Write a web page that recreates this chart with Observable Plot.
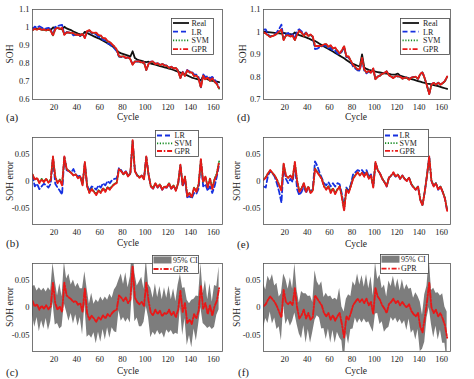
<!DOCTYPE html>
<html><head><meta charset="utf-8">
<script src="https://cdn.jsdelivr.net/npm/d3@7"></script>
<script src="https://cdn.jsdelivr.net/npm/@observablehq/plot@0.6"></script>
<style>
body{margin:0;background:#fff;}
#fig{position:relative;width:474px;height:379px;font-family:"Liberation Serif","Times New Roman",serif;color:#222;overflow:hidden;background:#fff}
.lbl{position:absolute;font-size:9.5px;white-space:nowrap;transform:translate(-50%,-50%)}
.ylab{transform:translate(-50%,-50%) rotate(-90deg)}
.pl{position:absolute;font-size:11px;white-space:nowrap;transform:translateY(-50%)}
svg{position:absolute}
</style></head><body><div id="fig"></div>
<script>
// ---------- data (one value per odd cycle 1,3,...,165) ----------
const cycles = d3.range(1, 166, 2);
const xTicks = [20, 40, 60, 80, 100, 120, 140, 160];
const yTicksSohL = [0.6, 0.7, 0.8, 0.9, 1, 1.1];
const yTicksSohR = [0.7, 0.8, 0.9, 1, 1.1];
const yTicksErr = [-0.05, 0, 0.05];

const realL = [0.997,0.995,0.993,0.992,0.99,0.988,0.987,0.986,0.985,1.0,
 0.998,0.996,0.994,0.99,1.004,0.995,0.99,0.985,0.978,0.972,
 0.966,0.962,0.958,0.976,0.97,0.963,0.957,0.951,0.945,0.94,
 0.934,0.927,0.92,0.912,0.904,0.896,0.888,0.874,0.862,0.856,
 0.852,0.848,0.844,0.838,0.868,0.83,0.822,0.818,0.814,0.81,
 0.808,0.81,0.8,0.797,0.793,0.789,0.785,0.782,0.779,0.776,
 0.772,0.768,0.764,0.759,0.754,0.749,0.744,0.739,0.734,0.728,
 0.722,0.718,0.714,0.71,0.706,0.73,0.718,0.712,0.708,0.704,
 0.702,0.699,0.696];
const errGprL = [0.012,0.002,0.006,-0.004,0.003,-0.002,0.004,-0.003,0.002,0.045,
 0.008,-0.004,0.002,-0.008,0.045,0.022,0.018,0.015,0.01,0.012,
 0.005,0.008,-0.008,0.035,-0.01,-0.022,-0.015,-0.02,-0.026,-0.018,
 -0.022,-0.014,-0.02,-0.012,-0.016,-0.01,-0.006,-0.004,0.022,0.018,
 0.012,0.018,0.008,0.014,0.075,0.018,0.01,0.006,0.01,0.003,
 0.045,0.012,-0.01,-0.014,-0.004,-0.012,-0.006,-0.016,-0.01,-0.012,
 -0.004,-0.014,-0.008,-0.018,-0.004,0.03,-0.008,0.008,-0.028,-0.022,
 -0.03,-0.012,-0.02,-0.006,0.04,-0.002,0.008,-0.012,0.004,-0.015,
 0.002,0.012,0.035];
const errLrL = [0.01,-0.01,-0.005,-0.015,-0.01,-0.005,-0.008,-0.012,-0.005,0.042,
 -0.005,-0.012,-0.018,-0.025,0.044,0.02,0.018,0.016,0.022,0.012,
 0.008,0.01,-0.006,0.032,-0.008,-0.018,-0.01,-0.012,-0.016,-0.008,
 -0.012,-0.004,-0.008,0.0,-0.004,0.002,0.004,0.005,0.024,0.02,
 0.012,0.018,0.01,0.014,0.072,0.02,0.01,0.008,0.01,0.004,
 0.044,0.012,-0.01,-0.014,-0.006,-0.012,-0.008,-0.016,-0.012,-0.012,
 -0.006,-0.014,-0.01,-0.016,-0.006,0.028,-0.01,0.004,-0.03,-0.028,
 -0.032,-0.022,-0.024,-0.014,0.038,-0.01,-0.006,-0.018,-0.01,-0.022,
 -0.01,0.008,0.03];
const errSvmL = [0.012,0.003,0.005,-0.003,0.004,-0.001,0.004,-0.002,0.003,0.044,
 0.008,-0.003,0.003,-0.006,0.044,0.022,0.019,0.015,0.011,0.012,
 0.006,0.008,-0.007,0.034,-0.009,-0.021,-0.014,-0.019,-0.024,-0.017,
 -0.02,-0.013,-0.018,-0.011,-0.014,-0.009,-0.005,-0.003,0.022,0.018,
 0.012,0.017,0.009,0.014,0.074,0.018,0.011,0.007,0.01,0.004,
 0.044,0.012,-0.009,-0.013,-0.004,-0.011,-0.006,-0.015,-0.01,-0.011,
 -0.004,-0.013,-0.008,-0.017,-0.004,0.029,-0.007,0.008,-0.027,-0.022,
 -0.029,-0.012,-0.019,-0.006,0.039,-0.002,0.008,-0.011,0.005,-0.013,
 0.004,0.014,0.036];
const ciHalfL = [0.026,0.038,0.024,0.04,0.027,0.037,0.024,0.039,0.028,0.036,
 0.04,0.025,0.041,0.027,0.038,0.03,0.043,0.026,0.04,0.025,
 0.039,0.026,0.042,0.03,0.044,0.028,0.041,0.026,0.04,0.027,
 0.041,0.026,0.039,0.025,0.04,0.027,0.038,0.042,0.028,0.043,
 0.03,0.045,0.028,0.042,0.038,0.044,0.029,0.041,0.045,0.03,
 0.043,0.03,0.045,0.031,0.047,0.03,0.044,0.03,0.046,0.029,
 0.043,0.028,0.042,0.029,0.045,0.03,0.043,0.028,0.041,0.029,
 0.043,0.027,0.041,0.026,0.04,0.027,0.041,0.026,0.039,0.025,
 0.038,0.026,0.039];

const realR = [1.0,1.0,0.999,0.998,0.997,0.996,0.995,0.994,0.993,0.996,
 0.994,0.992,0.99,0.988,0.998,0.99,0.986,0.983,0.979,0.976,
 0.972,0.967,0.962,0.96,0.954,0.948,0.942,0.936,0.93,0.925,
 0.919,0.913,0.907,0.901,0.895,0.889,0.883,0.876,0.869,0.862,
 0.858,0.854,0.85,0.846,0.9,0.842,0.836,0.832,0.829,0.826,
 0.824,0.822,0.82,0.818,0.816,0.815,0.814,0.812,0.811,0.812,
 0.815,0.806,0.803,0.8,0.797,0.794,0.791,0.788,0.785,0.782,
 0.779,0.776,0.774,0.771,0.769,0.767,0.764,0.762,0.759,0.756,
 0.753,0.75,0.747];
const errGprR = [0.002,0.006,0.014,0.02,0.015,0.01,0.002,-0.008,-0.018,0.032,
 0.01,0.006,0.01,0.004,0.035,0.0,-0.02,-0.014,-0.004,-0.02,
 -0.01,-0.022,-0.018,0.022,0.016,0.01,0.004,-0.01,-0.016,-0.01,
 -0.022,-0.014,-0.024,-0.016,-0.01,-0.03,-0.055,-0.016,-0.022,-0.01,
 0.004,0.01,0.016,0.01,0.015,0.008,0.016,0.004,0.01,-0.012,
 0.035,0.02,0.014,0.004,-0.002,-0.01,0.006,0.01,0.016,0.008,
 0.012,0.004,0.01,0.004,0.0,0.006,-0.006,-0.012,-0.016,-0.01,
 -0.035,-0.045,-0.02,0.01,0.045,0.0,-0.01,-0.004,-0.016,-0.01,
 -0.02,-0.032,-0.055];
const errLrR = [-0.01,-0.012,0.01,0.018,0.014,0.008,-0.005,-0.02,-0.04,0.028,
 0.004,-0.004,0.004,-0.002,0.03,-0.015,-0.026,-0.02,-0.01,-0.022,
 -0.012,-0.02,-0.015,0.036,0.028,0.016,0.006,-0.004,-0.008,-0.002,
 -0.01,-0.004,-0.01,-0.004,-0.006,-0.024,-0.05,-0.012,-0.018,-0.006,
 0.012,0.016,0.02,0.018,0.02,0.014,0.02,0.008,0.012,-0.01,
 0.034,0.02,0.014,0.004,-0.002,-0.01,0.006,0.01,0.014,0.008,
 0.012,0.004,0.01,0.004,0.0,0.006,-0.006,-0.012,-0.016,-0.01,
 -0.034,-0.044,-0.02,0.01,0.044,0.0,-0.01,-0.004,-0.016,-0.01,
 -0.02,-0.032,-0.054];
const errSvmR = [0.003,0.007,0.014,0.019,0.015,0.01,0.003,-0.007,-0.016,0.031,
 0.01,0.006,0.01,0.005,0.034,0.001,-0.018,-0.013,-0.004,-0.019,
 -0.01,-0.021,-0.017,0.023,0.017,0.011,0.004,-0.009,-0.015,-0.009,
 -0.02,-0.013,-0.022,-0.015,-0.01,-0.028,-0.053,-0.015,-0.021,-0.009,
 0.005,0.011,0.016,0.011,0.015,0.009,0.016,0.005,0.01,-0.011,
 0.034,0.02,0.014,0.005,-0.002,-0.009,0.006,0.01,0.015,0.008,
 0.012,0.005,0.01,0.004,0.001,0.006,-0.005,-0.011,-0.015,-0.01,
 -0.034,-0.044,-0.019,0.01,0.044,0.001,-0.009,-0.004,-0.015,-0.01,
 -0.019,-0.031,-0.053];
const ciHalfR = [0.041,0.026,0.043,0.028,0.045,0.029,0.042,0.027,0.043,0.029,
 0.041,0.027,0.044,0.029,0.045,0.031,0.028,0.043,0.029,0.045,
 0.03,0.043,0.027,0.045,0.031,0.029,0.043,0.028,0.042,0.029,
 0.043,0.028,0.041,0.029,0.045,0.031,0.047,0.031,0.045,0.03,
 0.043,0.029,0.045,0.031,0.043,0.029,0.044,0.03,0.046,0.033,
 0.047,0.031,0.045,0.03,0.043,0.029,0.042,0.028,0.041,0.027,
 0.04,0.026,0.041,0.028,0.042,0.027,0.041,0.029,0.043,0.03,
 0.045,0.031,0.043,0.029,0.045,0.031,0.045,0.03,0.043,0.031,
 0.045,0.033,0.047];

// ---------- styles ----------
const C = {real: "#111", lr: "#1630e0", svm: "#138a1e", gpr: "#e81818", ci: "#7d7d7d"};
const S = {
  real: {stroke: C.real, strokeWidth: 1.8},
  lr: {stroke: C.lr, strokeWidth: 1.8, strokeDasharray: "5,3"},
  svm: {stroke: C.svm, strokeWidth: 1.7, strokeDasharray: "1.2,1.6"},
  gpr: {stroke: C.gpr, strokeWidth: 1.9, strokeDasharray: "5,1.8,1.5,1.8"}
};

const fig = document.getElementById("fig");
const fmt = d => String(Math.round(d * 100) / 100);
const tbl = (arr) => cycles.map((c, i) => ({c, v: arr[i]}));
const predTbl = (real, err) => cycles.map((c, i) => ({c, v: real[i] - err[i]}));
const ciTbl = (err, half) => cycles.map((c, i) => ({c, lo: err[i] - half[i], hi: err[i] + half[i]}));

function line(data, st) { return Plot.line(data, {x: "c", y: "v", ...st, clip: true}); }

function panel(o) {
  const svg = Plot.plot({
    width: 237, height: o.h,
    marginLeft: o.ml, marginRight: o.mr, marginTop: o.mt, marginBottom: o.mb,
    style: {fontFamily: "'Liberation Serif', serif", fontSize: "8.5px", background: "transparent", color: "#222", overflow: "visible"},
    x: {domain: [1, 168], ticks: xTicks, tickSize: 0, tickPadding: 4, label: null},
    y: {domain: o.yd, ticks: o.yt, tickSize: 0, tickPadding: 3, label: null, tickFormat: fmt},
    marks: [...o.marks, Plot.frame({stroke: "#555", strokeWidth: 0.8})]
  });
  svg.style.left = o.x + "px"; svg.style.top = o.y + "px";
  fig.appendChild(svg);
}

function legend(x, y, w, h, items) {
  const s = d3.create("svg").attr("width", w).attr("height", h)
    .style("left", x + "px").style("top", y + "px");
  s.append("rect").attr("x", 0.5).attr("y", 0.5).attr("width", w - 1).attr("height", h - 1)
    .attr("fill", "#fff").attr("stroke", "#444").attr("stroke-width", 0.8);
  for (const it of items) {
    if (it.patch) {
      s.append("rect").attr("x", it.x1).attr("y", it.y - 3.5).attr("width", it.x2 - it.x1).attr("height", 7).attr("fill", C.ci);
    } else {
      const st = S[it.k];
      s.append("line").attr("x1", it.x1).attr("x2", it.x2).attr("y1", it.y).attr("y2", it.y)
        .attr("stroke", st.stroke).attr("stroke-width", st.strokeWidth)
        .attr("stroke-dasharray", st.strokeDasharray || null);
    }
    s.append("text").attr("x", it.tx).attr("y", it.y).attr("dy", "0.35em")
      .attr("font-family", "'Liberation Serif', serif").attr("font-size", 8).attr("fill", "#222").text(it.label);
  }
  fig.appendChild(s.node());
}

function text(cls, x, y, t, size) {
  const d = document.createElement("div");
  d.className = cls; d.style.left = x + "px"; d.style.top = y + "px"; d.textContent = t;
  if (size) d.style.fontSize = size + "px";
  fig.appendChild(d);
}

// ---------- panels ----------
const L = {x: 0, ml: 32, mr: 15}, R = {x: 237, ml: 26, mr: 24};
const rowA = {y: 0, h: 112, mt: 9, mb: 13};
const rowB = {y: 125, h: 112, mt: 12, mb: 13};
const rowC = {y: 250, h: 114, mt: 13, mb: 13};
const errD = [-0.08, 0.08];

panel({...L, ...rowA, yd: [0.6, 1.1], yt: yTicksSohL, marks: [
  line(tbl(realL), S.real), line(predTbl(realL, errLrL), S.lr),
  line(predTbl(realL, errSvmL), S.svm), line(predTbl(realL, errGprL), S.gpr)]});
panel({...R, ...rowA, yd: [0.7, 1.1], yt: yTicksSohR, marks: [
  line(tbl(realR), S.real), line(predTbl(realR, errLrR), S.lr),
  line(predTbl(realR, errSvmR), S.svm), line(predTbl(realR, errGprR), S.gpr)]});
panel({...L, ...rowB, yd: errD, yt: yTicksErr, marks: [
  line(tbl(errLrL), S.lr), line(tbl(errSvmL), S.svm), line(tbl(errGprL), S.gpr)]});
panel({...R, ...rowB, yd: errD, yt: yTicksErr, marks: [
  line(tbl(errLrR), S.lr), line(tbl(errSvmR), S.svm), line(tbl(errGprR), S.gpr)]});
panel({...L, ...rowC, yd: errD, yt: yTicksErr, marks: [
  Plot.areaY(ciTbl(errGprL, ciHalfL), {x: "c", y1: "lo", y2: "hi", fill: C.ci, clip: true}),
  line(tbl(errGprL), S.gpr)]});
panel({...R, ...rowC, yd: errD, yt: yTicksErr, marks: [
  Plot.areaY(ciTbl(errGprR, ciHalfR), {x: "c", y1: "lo", y2: "hi", fill: C.ci, clip: true}),
  line(tbl(errGprR), S.gpr)]});

// ---------- legends ----------
legend(171, 18, 43, 37, [
  {k: "real", x1: 2, x2: 18, y: 5, tx: 20.5, label: "Real"},
  {k: "lr", x1: 2, x2: 18, y: 13.7, tx: 20.5, label: "LR"},
  {k: "svm", x1: 2, x2: 18, y: 22.4, tx: 20.5, label: "SVM"},
  {k: "gpr", x1: 2, x2: 18, y: 31.1, tx: 20.5, label: "GPR"}]);
legend(400, 18, 50, 37, [
  {k: "real", x1: 2.5, x2: 19, y: 5, tx: 23, label: "Real"},
  {k: "lr", x1: 2.5, x2: 19, y: 13.7, tx: 23, label: "LR"},
  {k: "svm", x1: 2.5, x2: 19, y: 22.4, tx: 23, label: "SVM"},
  {k: "gpr", x1: 2.5, x2: 19, y: 31.1, tx: 23, label: "GPR"}]);
legend(155, 130, 44, 27, [
  {k: "lr", x1: 2, x2: 18, y: 5.5, tx: 19.5, label: "LR"},
  {k: "svm", x1: 2, x2: 18, y: 13.3, tx: 19.5, label: "SVM"},
  {k: "gpr", x1: 2, x2: 18, y: 21, tx: 19.5, label: "GPR"}]);
legend(383, 129, 46, 28, [
  {k: "lr", x1: 2, x2: 15, y: 6.5, tx: 16.5, label: "LR"},
  {k: "svm", x1: 2, x2: 15, y: 14.2, tx: 16.5, label: "SVM"},
  {k: "gpr", x1: 2, x2: 15, y: 21.9, tx: 16.5, label: "GPR"}]);
legend(152, 255, 47, 19, [
  {patch: true, x1: 1.5, x2: 19.5, y: 5, tx: 21, label: "95% CI"},
  {k: "gpr", x1: 1.5, x2: 19.5, y: 14, tx: 21, label: "GPR"}]);
legend(380, 254, 49, 20, [
  {patch: true, x1: 1.5, x2: 19.5, y: 5.2, tx: 21, label: "95% CI"},
  {k: "gpr", x1: 1.5, x2: 19.5, y: 14.6, tx: 21, label: "GPR"}]);

// ---------- labels ----------
text("lbl ylab", 10, 54, "SOH");
text("lbl ylab", 243, 54, "SOH");
text("lbl ylab", 10, 181, "SOH error");
text("lbl ylab", 237, 181, "SOH error");
text("lbl ylab", 10, 307, "SOH error");
text("lbl ylab", 237, 307, "SOH error");
text("lbl", 128, 117, "Cycle");
text("lbl", 356, 117, "Cycle");
text("lbl", 128, 243, "Cycle");
text("lbl", 356, 244, "Cycle");
text("lbl", 128, 371, "Cycle");
text("lbl", 356, 371, "Cycle");
text("pl", 6, 117, "(a)");
text("pl", 237, 117, "(d)");
text("pl", 6, 243, "(b)");
text("pl", 237, 244, "(e)");
text("pl", 6, 372, "(c)");
text("pl", 238, 372, "(f)");
</script></body></html>
